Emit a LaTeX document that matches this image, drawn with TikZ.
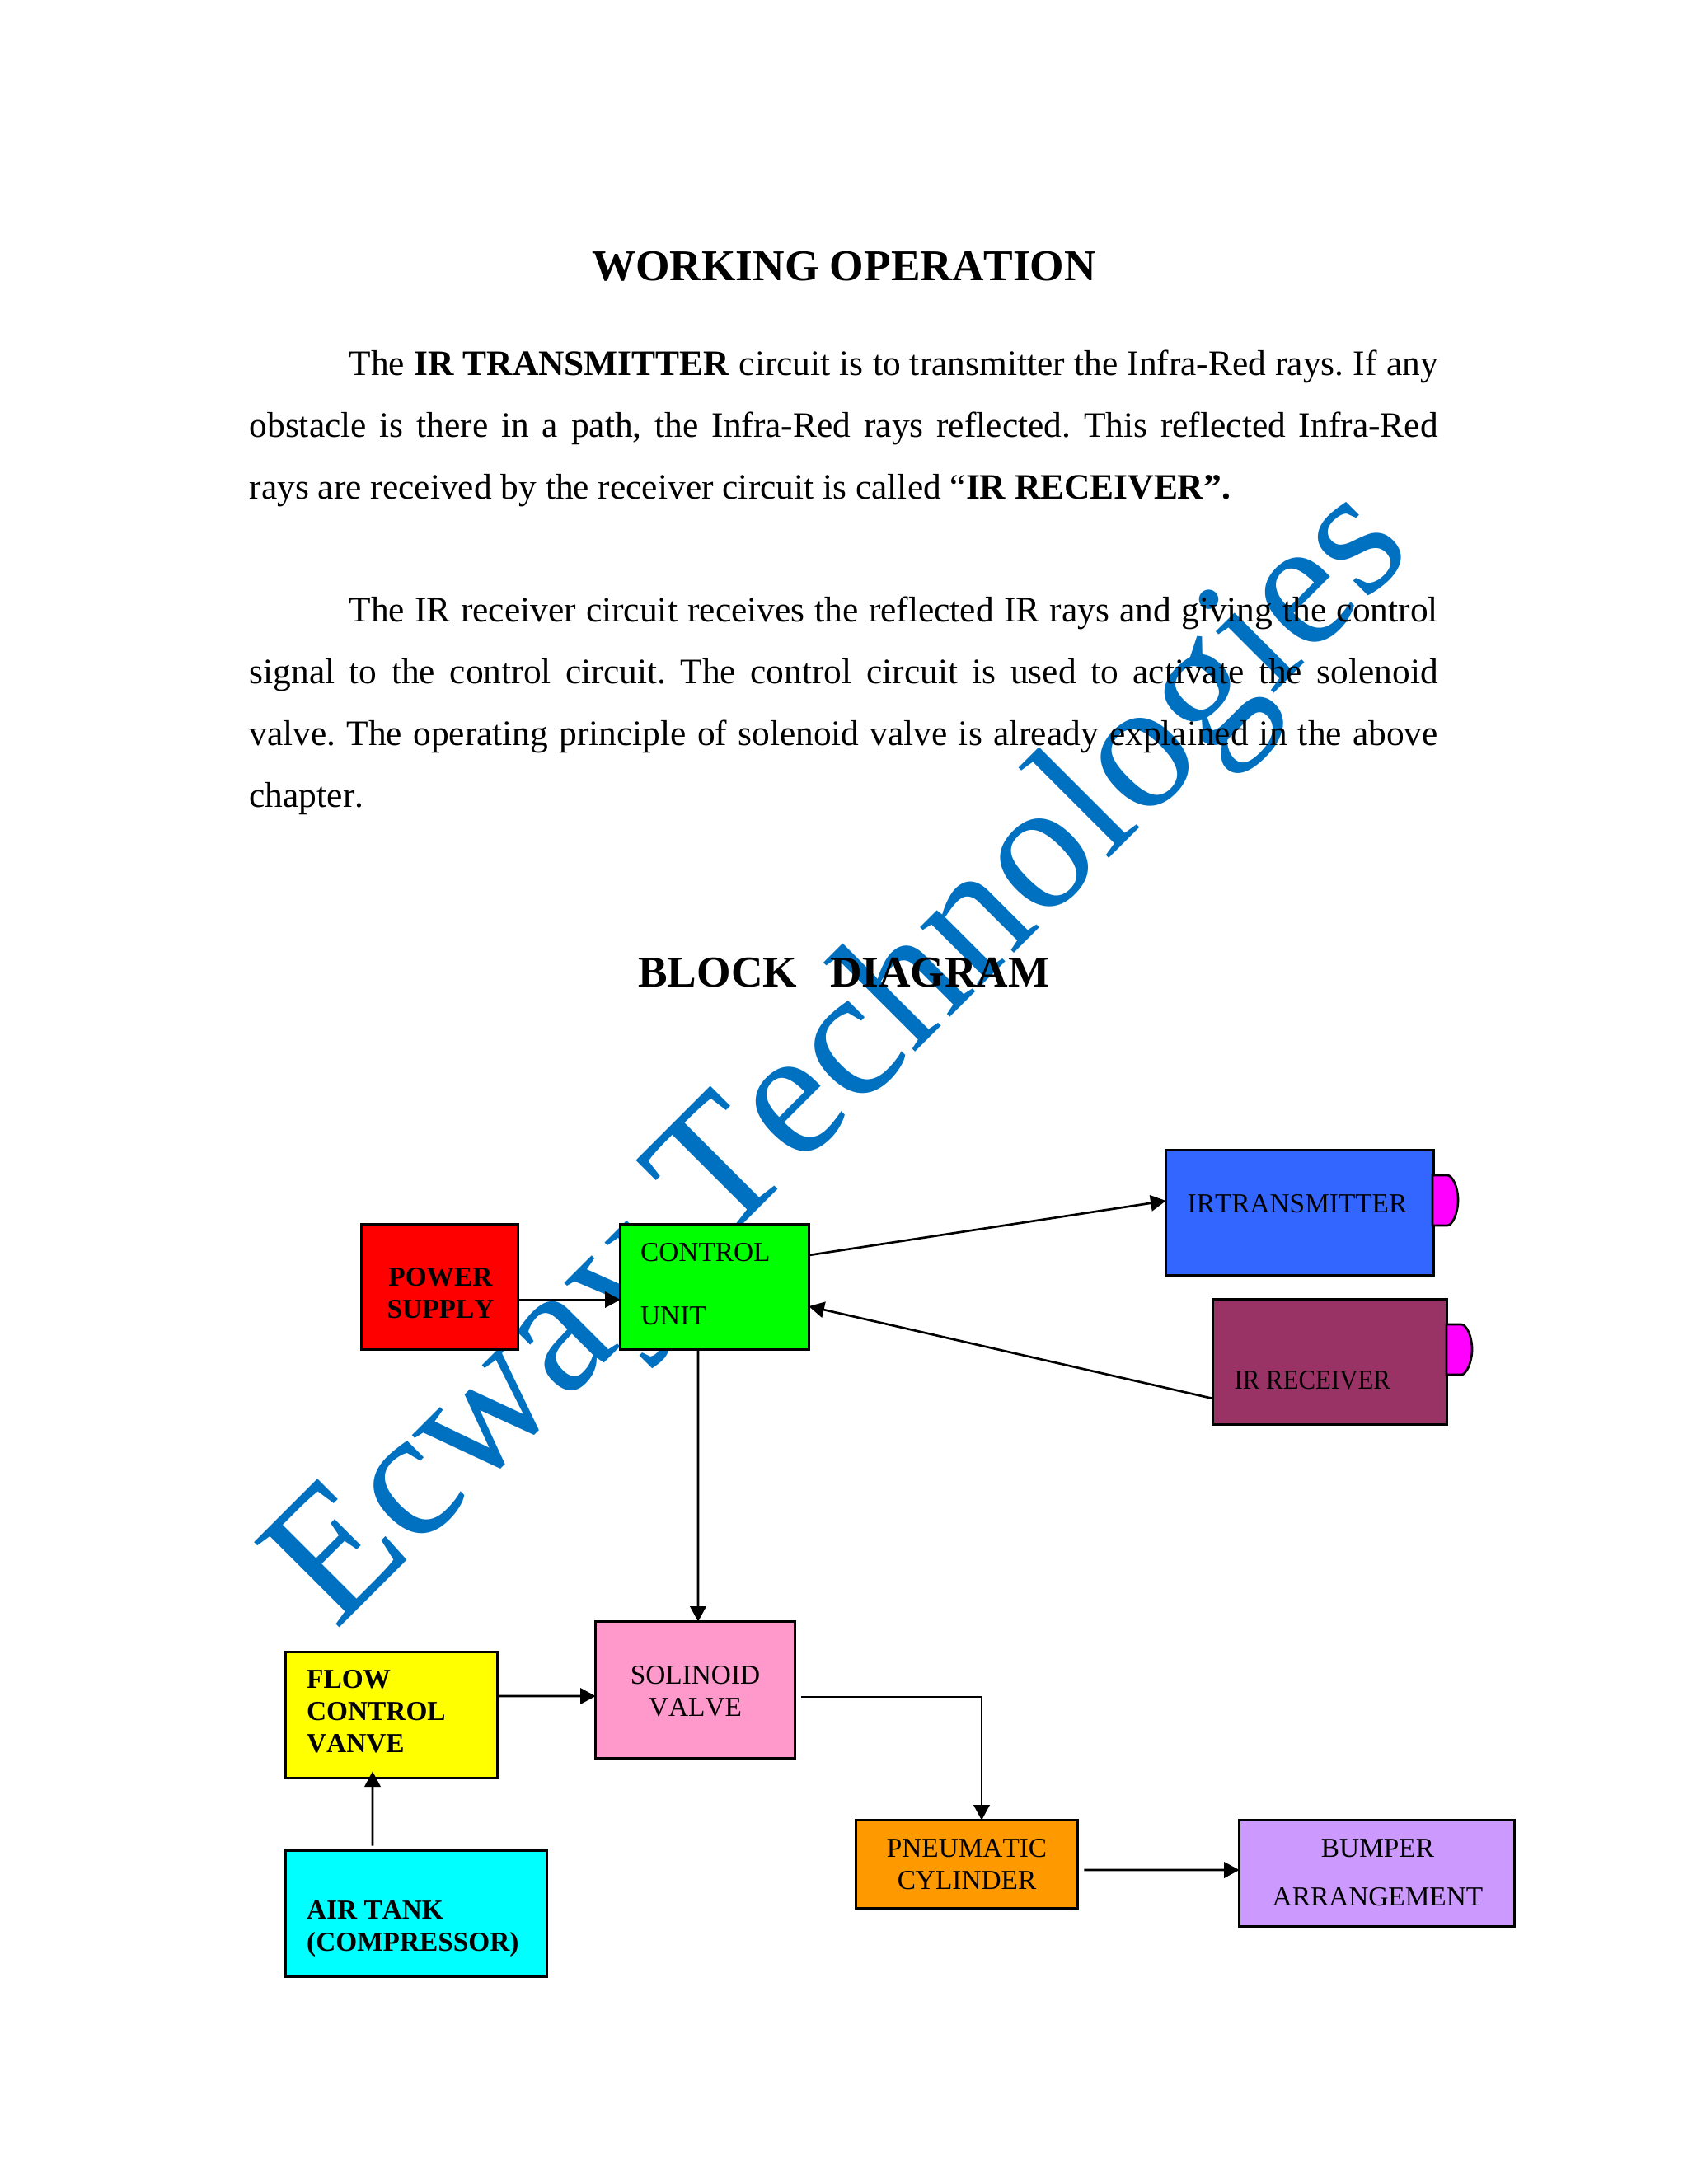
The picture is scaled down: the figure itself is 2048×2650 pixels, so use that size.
\documentclass[tikz,border=0pt]{standalone}
\usepackage{fontspec}
\setmainfont[Kerning=Off]{Liberation Serif}
\usetikzlibrary{arrows.meta}
\definecolor{markblue}{HTML}{0070C0}
\definecolor{txblue}{HTML}{3366FF}
\definecolor{rxmaroon}{HTML}{993366}
\definecolor{solpink}{HTML}{FF99CC}
\definecolor{pneuorange}{HTML}{FF9900}
\definecolor{bumpviolet}{HTML}{CC99FF}
\definecolor{ctrlgreen}{HTML}{00FF00}
\definecolor{flowyellow}{HTML}{FFFF00}
\definecolor{aircyan}{HTML}{00FFFF}
\definecolor{ledpink}{HTML}{FF00FF}
\tikzset{
  blockbox/.style={draw=black, line width=0.8pt, outer sep=0pt, inner sep=0pt},
  blocktext/.style={inner sep=0pt, font=\fontsize{10}{11.7}\selectfont},
  flowline/.style={black, line width=0.8pt, -{Triangle[length=5.6pt,width=5.8pt]}},
  headtext/.style={inner sep=0pt, anchor=base, font=\fontsize{16}{19}\bfseries},
  bodytext/.style={inner sep=0pt, anchor=north west, text width=432.6pt, align=justify, font=\fontsize{13.03}{22.5}\selectfont\frenchspacing},
  ledcap/.style={draw=black, line width=0.8pt, fill=ledpink}
}
\begin{document}
\begin{tikzpicture}[x=0.3pt, y=-0.3pt]
            \useasboundingbox (0,0) rectangle (2048,2650);
            \node[rotate=45, anchor=base west, inner sep=0pt, text=markblue, font=\fontsize{67}{70}\selectfont] (mark) at (407,1980) {\addfontfeature{FakeStretch=0.992}Ecway Technologies};
            \node[headtext] (title) at (1024,340) {WORKING OPERATION};
            \node[bodytext] (parone) at (302,424) {\hspace*{36.3pt}The \textbf{IR TRANSMITTER} circuit is to transmitter the Infra-Red rays. If any\linebreak obstacle is there in a path, the Infra-Red rays reflected. This reflected Infra-Red\linebreak rays are received by the receiver circuit is called “\textbf{IR RECEIVER”.}};
            \node[bodytext] (partwo) at (302,723.5) {\hspace*{36.3pt}The IR receiver circuit receives the reflected IR rays and giving the control\linebreak signal to the control circuit. The control circuit is used to activate the solenoid\linebreak valve. The operating principle of solenoid valve is already explained in the above\linebreak chapter.};
            \node[headtext] (blockhead) at (1024,1197) {BLOCK\ \ \ DIAGRAM};

            \node[blockbox, fill=red, minimum width=56.9pt, minimum height=45.5pt] (power) at (533.5,1561.5) {};
            \node[blockbox, fill=ctrlgreen, minimum width=68.6pt, minimum height=45.5pt] (ctrl) at (867,1561.5) {};
            \node[blockbox, fill=txblue, minimum width=97.4pt, minimum height=45.5pt] (irtx) at (1577,1471.5) {};
            \node[blockbox, fill=rxmaroon, minimum width=85.1pt, minimum height=45.5pt] (irrx) at (1613.5,1652.5) {};
            \node[blockbox, fill=flowyellow, minimum width=77pt, minimum height=45.8pt] (flow) at (475,2081) {};
            \node[blockbox, fill=solpink, minimum width=72.5pt, minimum height=49.7pt] (sol) at (843.5,2050.5) {};
            \node[blockbox, fill=aircyan, minimum width=95pt, minimum height=45.8pt] (air) at (505,2322) {};
            \node[blockbox, fill=pneuorange, minimum width=80.6pt, minimum height=32pt] (pneu) at (1173,2262) {};
            \node[blockbox, fill=bumpviolet, minimum width=100.1pt, minimum height=38.6pt] (bump) at (1670.5,2273) {};

            \foreach \capx/\capy in {1738/1426, 1755/1607}
                \draw[ledcap, shift={(\capx,\capy)}] (0,0) -- (18,0) .. controls (24,0) and (31,14) .. (31,30) .. controls (31,46) and (24,61) .. (18,61) -- (0,61) -- cycle;

            \node[blocktext, anchor=base, align=center] (powertext) at (534.5,1599) {\textbf{POWER}\\\textbf{SUPPLY}};
            \node[blocktext, anchor=base west, align=left] (ctrltext) at (776.5,1607) {CONTROL\\[11.4pt]UNIT};
            \node[blocktext, anchor=base west] (irtxtext) at (1440,1471) {IRTRANSMITTER};
            \node[blocktext, anchor=base west] (irrxtext) at (1497,1685) {\addfontfeature{FakeStretch=0.925}IR RECEIVER};
            \node[blocktext, anchor=base west, align=left] (flowtext) at (371.5,2126) {\textbf{FLOW}\\\textbf{CONTROL}\\\textbf{VANVE}};
            \node[blocktext, anchor=base, align=center] (soltext) at (843.5,2082) {SOLINOID\\VALVE};
            \node[blocktext, anchor=base west, align=left] (airtext) at (371.5,2367) {\textbf{AIR TANK}\\\textbf{(COMPRESSOR)}};
            \node[blocktext, anchor=base, align=center] (pneutext) at (1173,2292) {PNEUMATIC\\CYLINDER};
            \node[blocktext, anchor=base, align=center] (bumptext) at (1671.5,2312) {BUMPER\\[6pt]ARRANGEMENT};

            \draw[flowline] ([yshift=-4.65pt]power.east) -- ([yshift=-4.65pt]ctrl.west);
            \draw[flowline] ([yshift=11.55pt]ctrl.east) -- ([yshift=4.35pt]irtx.west);
            \draw[flowline] ([yshift=-13.35pt]irrx.west) -- ([yshift=-7.05pt]ctrl.east);
            \draw[flowline] ([xshift=-6pt]ctrl.south) -- ([xshift=1.05pt]sol.north);
            \draw[flowline] ([yshift=6.9pt]flow.east) -- ([yshift=-2.25pt]sol.west);
            \draw[flowline] ([xshift=2.4pt,yshift=-2.55pt]sol.east) -| ([xshift=5.4pt]pneu.north);
            \draw[flowline] ([xshift=2.4pt,yshift=-2.1pt]pneu.east) -- ([yshift=1.2pt]bump.west);
            \draw[flowline] ([xshift=-15.9pt,yshift=1.8pt]air.north) -- ([xshift=-6.9pt,yshift=2.4pt]flow.south);
        \end{tikzpicture}
\end{document}
